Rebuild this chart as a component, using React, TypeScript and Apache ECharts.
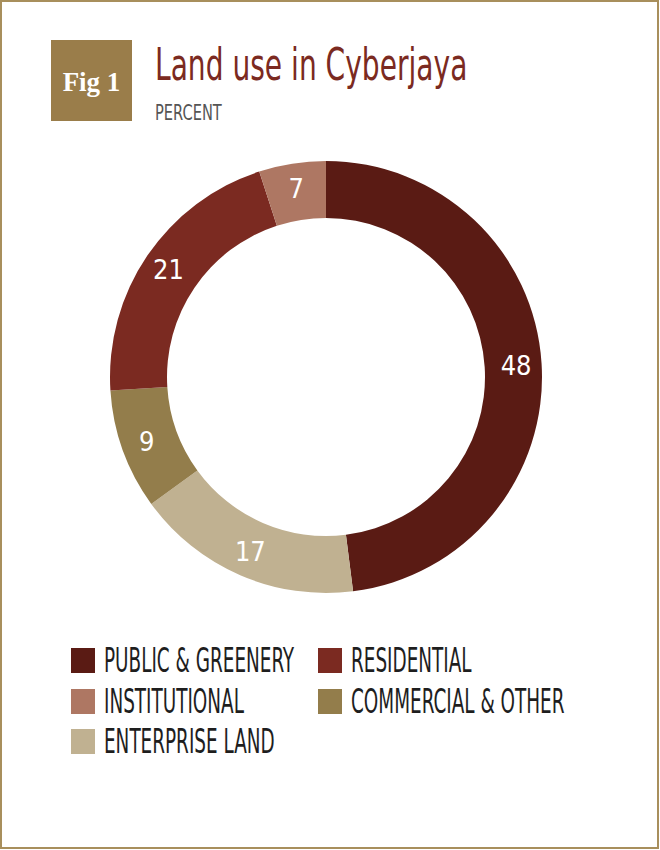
import React, { useEffect, useRef } from "react";
import * as echarts from "echarts";

const categories = ["PUBLIC & GREENERY", "ENTERPRISE LAND", "COMMERCIAL & OTHER", "RESIDENTIAL", "INSTITUTIONAL"];
// slice sizes as drawn (angles measured in the picture)
const sliceShares = [48, 17, 9, 21, 5];
// numbers printed on the slices
const sliceLabels = ["48", "17", "9", "21", "7"];
const colors = ["#5a1b14", "#c0b191", "#937d4b", "#7b2a21", "#ae7763"];
const legendCol1 = ["PUBLIC & GREENERY", "INSTITUTIONAL", "ENTERPRISE LAND"];
const legendCol2 = ["RESIDENTIAL", "COMMERCIAL & OTHER"];

const COND = "'DejaVu Sans Condensed', 'DejaVu Sans', sans-serif";

function legendItems(names: string[], x: number) {
  const rowTops = [648, 689, 729];
  const out: any[] = [];
  names.forEach((n, r) => {
    const color = colors[categories.indexOf(n)];
    out.push({
      type: "rect",
      shape: { x, y: rowTops[r], width: 24, height: 25 },
      style: { fill: color },
    });
    out.push({
      type: "text",
      x: x + 33,
      y: rowTops[r] + 13,
      scaleX: 0.62,
      style: {
        text: n, fill: "#1e1e1e", fontFamily: COND, fontSize: 33,
        verticalAlign: "middle",
      },
    });
  });
  return out;
}

export default function App() {
  const ref = useRef<HTMLDivElement>(null);
  useEffect(() => {
    const chart = echarts.init(ref.current!, null, { renderer: "svg" });
    chart.setOption({
      animation: false,
      backgroundColor: "#fff",
      color: colors,
      series: [
        {
          type: "pie",
          center: [326, 377],
          radius: [159, 216],
          startAngle: 90,
          clockwise: true,
          avoidLabelOverlap: false,
          label: {
            position: "inside",
            color: "#fff",
            fontFamily: COND,
            fontSize: 27,
            padding: [8, 0, 0, 0],
            formatter: (p: any) => sliceLabels[p.dataIndex],
          },
          labelLine: { show: false },
          data: categories.map((c, i) => ({ name: c, value: sliceShares[i] })),
        },
      ],
      graphic: [
        {
          type: "rect",
          shape: { x: 1, y: 1, width: 657, height: 847 },
          style: { fill: "none", stroke: "#a88f5c", lineWidth: 2 },
          silent: true,
        },
        {
          type: "rect",
          shape: { x: 51, y: 40, width: 81, height: 81 },
          style: { fill: "#9a7d4a" },
        },
        {
          type: "text",
          x: 91.5, y: 82,
          style: {
            text: "Fig 1", fill: "#fff", fontFamily: "'Liberation Serif', 'DejaVu Serif', serif",
            fontWeight: "bold", fontSize: 27, align: "center", verticalAlign: "middle",
          },
        },
        {
          type: "text",
          x: 155, y: 65,
          scaleX: 0.71,
          style: {
            text: "Land use in Cyberjaya", fill: "#7b2a21", fontFamily: COND,
            fontSize: 44, verticalAlign: "middle",
          },
        },
        {
          type: "text",
          x: 155, y: 113,
          scaleX: 0.74,
          style: {
            text: "PERCENT", fill: "#555", fontFamily: COND,
            fontSize: 22, verticalAlign: "middle",
          },
        },
        ...legendItems(legendCol1, 71),
        ...legendItems(legendCol2, 318),
      ],
    });
    return () => chart.dispose();
  }, []);
  return <div ref={ref} style={{ position: "absolute", left: 0, top: 0, width: 660, height: 850 }} />;
}
